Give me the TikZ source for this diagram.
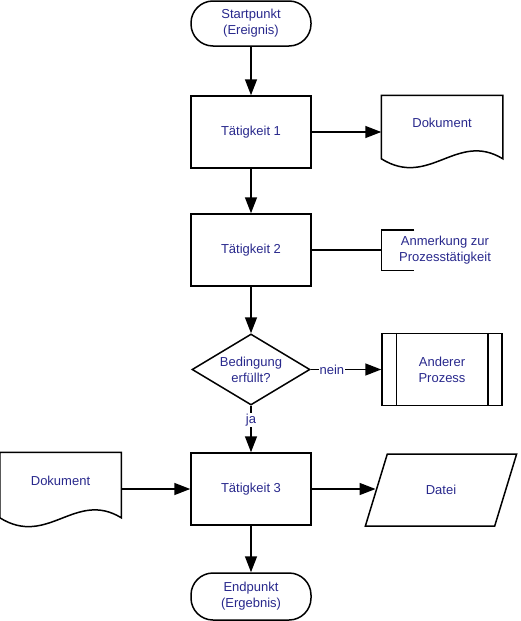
\documentclass[tikz,border=0pt]{standalone}
\usepackage{fontspec}
\setmainfont{Liberation Sans}
\usetikzlibrary{arrows.meta,shapes.geometric}
\definecolor{textblau}{RGB}{40,40,140}
\begin{document}
\begin{tikzpicture}[x=1pt,y=-1pt,
  line width=1.5pt,
  every node/.style={font=\fontsize{13}{16}\selectfont,text=textblau,align=center},
  pfeil/.style={-{Triangle[length=16pt,width=12pt]}},
  box/.style={draw,minimum width=120pt,minimum height=72pt},
  ende/.style={draw,rounded corners=22pt,minimum width=120pt,minimum height=45pt},
  frage/.style={draw,diamond,aspect=1.66,inner sep=0pt,minimum width=118pt,minimum height=71pt},
  blatt/.style={minimum width=120pt,minimum height=62pt,text depth=8pt},
  datei/.style={draw,trapezium,trapezium left angle=65,trapezium right angle=115,
    trapezium stretches=true,minimum width=152pt,minimum height=72pt},
  marke/.style={fill=white,inner sep=1pt,pos=0.3}]
  \useasboundingbox (0,0) rectangle (520,621);
  \path (251,23.5) node[ende] (start) {Startpunkt\\(Ereignis)};
  \path (251,132) node[box] (t1) {Tätigkeit 1};
  \path (442,127) node[blatt] (dok1) {Dokument};
  \path (251,250) node[box] (t2) {Tätigkeit 2};
  \path (445,250) node[minimum width=126pt,minimum height=39pt] (anm) {Anmerkung zur\\Prozesstätigkeit};
  \path (251,369.5) node[frage] (frage) {Bedingung\\erfüllt?};
  \path (442,369.5) node[box] (proz) {Anderer\\Prozess};
  \path (251,489) node[box] (t3) {Tätigkeit 3};
  \path (60.5,485) node[blatt,minimum height=64pt] (dok2) {Dokument};
  \path (441,490) node[datei] (datei) {Datei};
  \path (251,596.5) node[ende,minimum height=47pt] (ziel) {Endpunkt\\(Ergebnis)};

  \draw (dok1.north west) -- (dok1.south west) .. controls +(48,30) and +(-46,-28) .. (dok1.south east)
    -- (dok1.north east) -- cycle;
  \draw (dok2.north west) -- (dok2.south west) .. controls +(48,30) and +(-46,-28) .. (dok2.south east)
    -- (dok2.north east) -- cycle;
  \draw ([xshift=15pt]proz.north west) -- ([xshift=15pt]proz.south west)
    ([xshift=-15pt]proz.north east) -- ([xshift=-15pt]proz.south east);
  \draw ([xshift=33pt]anm.north west) -- (anm.north west) -- (anm.south west) -- ([xshift=33pt]anm.south west);

  \draw[pfeil] (start) -- (t1);
  \draw[pfeil] (t1.east) -- (t1.east -| dok1.west);
  \draw[pfeil] (t1) -- (t2);
  \draw (t2) -- (anm);
  \draw[pfeil] (t2) -- (frage);
  \draw[pfeil] (frage) -- node[marke] {nein} (proz);
  \draw[pfeil] (frage) -- node[marke] {ja} (t3);
  \draw[pfeil] (dok2.east |- t3.west) -- (t3.west);
  \draw[pfeil] (t3.east) -- (t3.east -| datei.west);
  \draw[pfeil] (t3) -- (ziel);
\end{tikzpicture}
\end{document}
